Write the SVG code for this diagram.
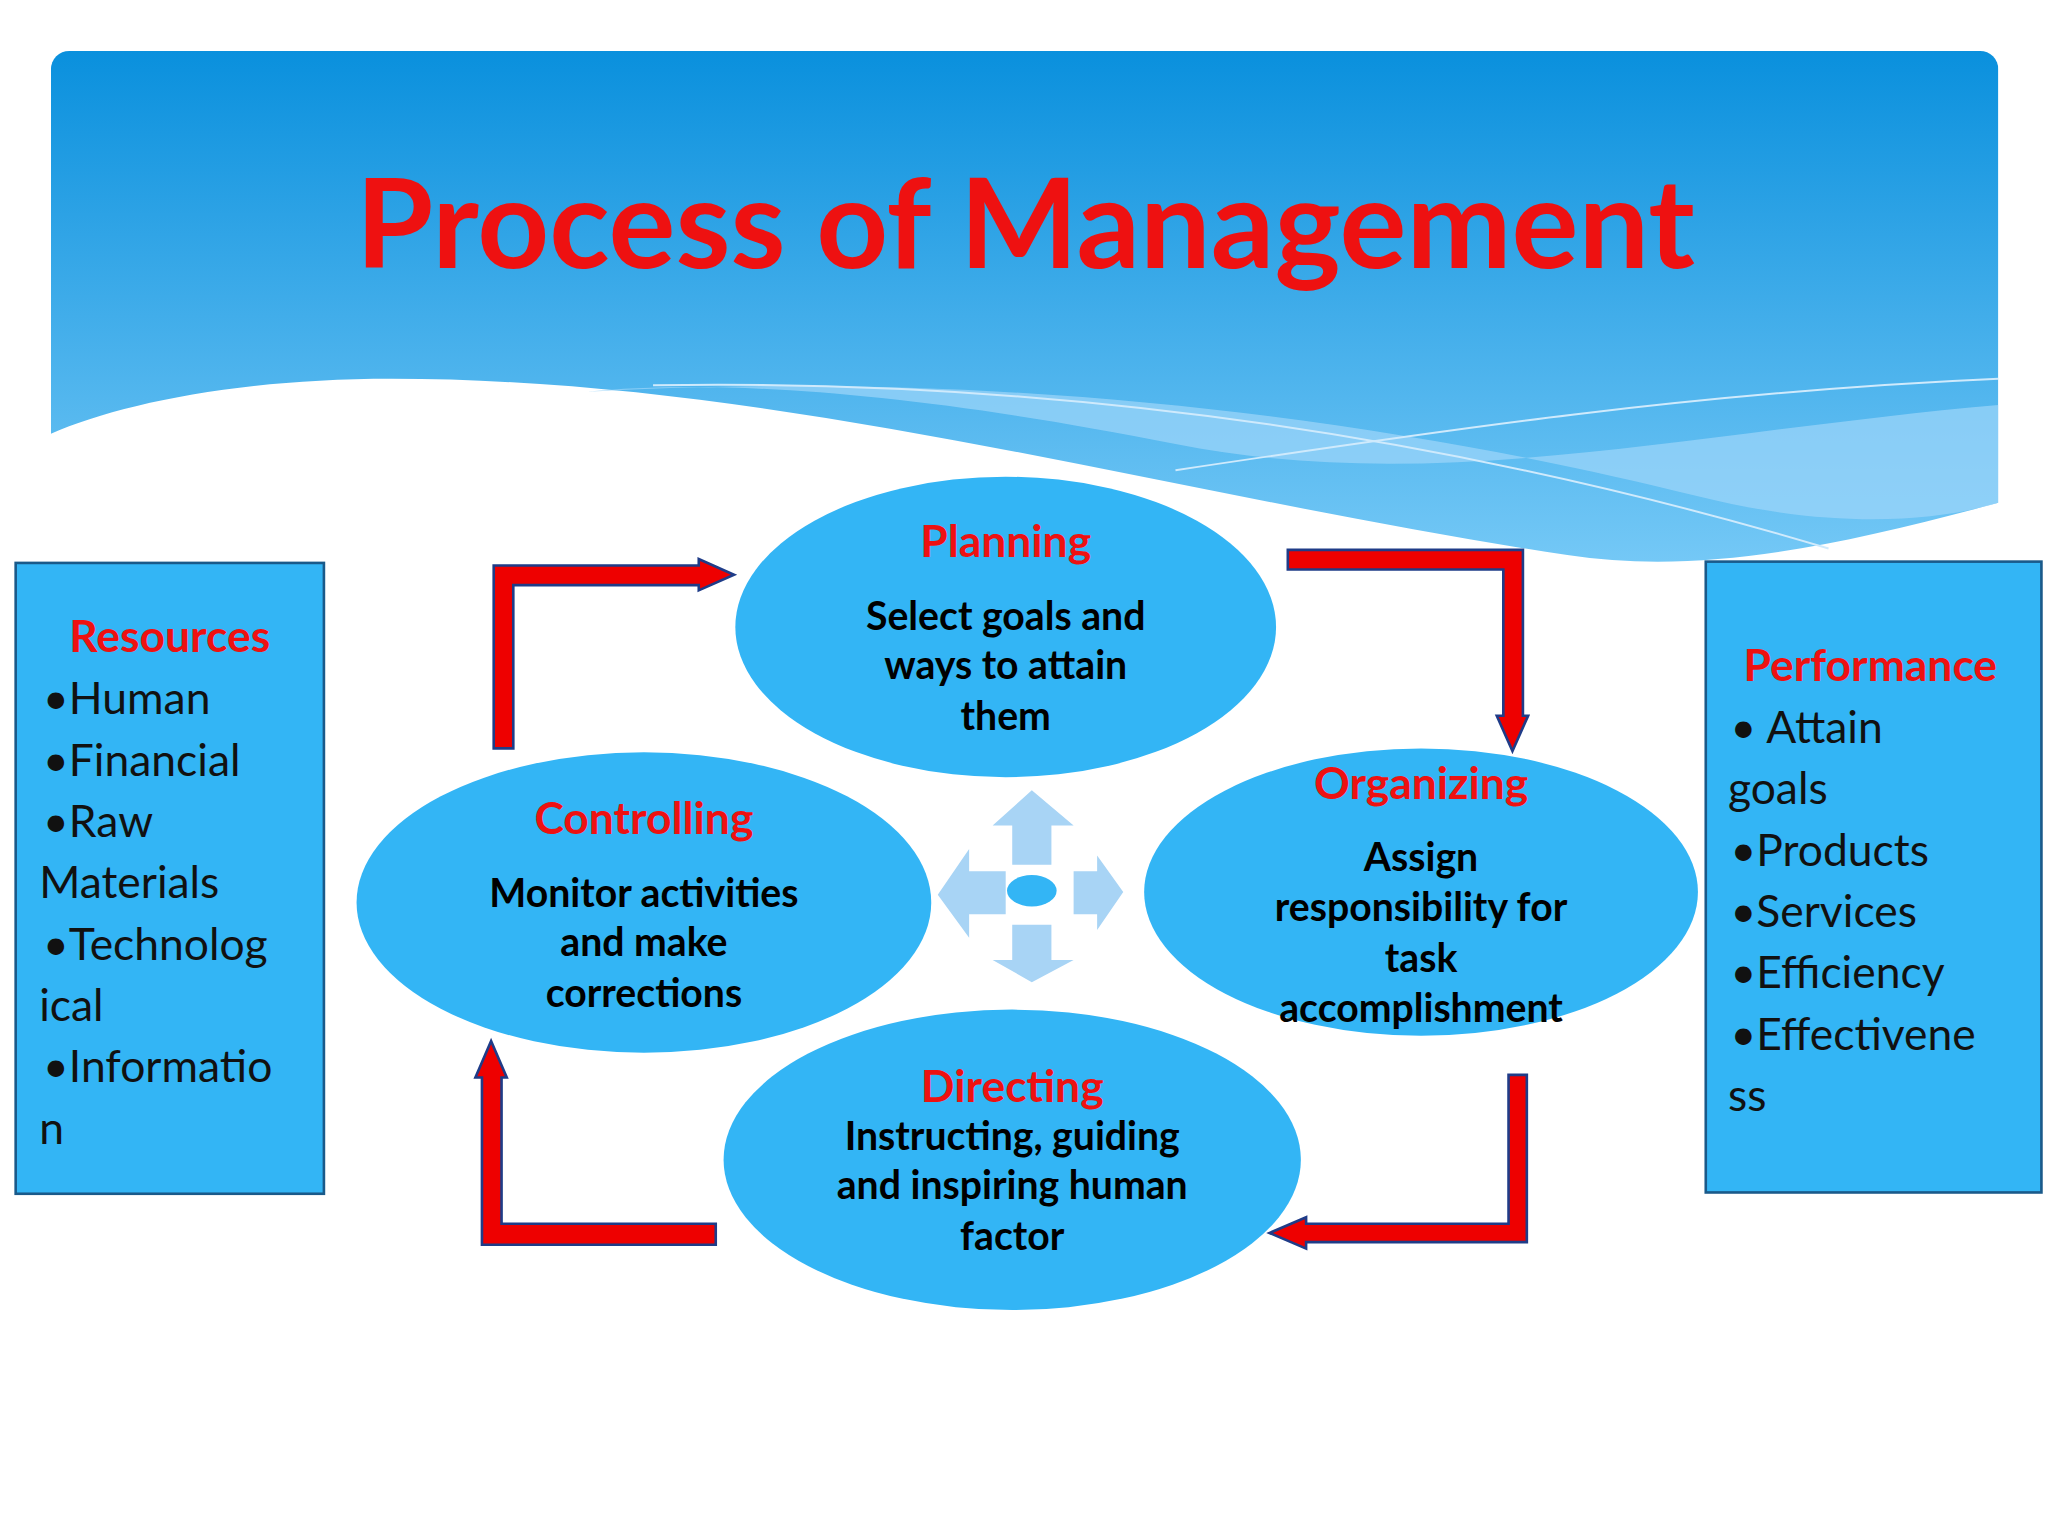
<svg xmlns="http://www.w3.org/2000/svg" width="2048" height="1536" viewBox="0 0 2048 1536">
<defs>
<linearGradient id="hg" x1="0" y1="0" x2="0" y2="1">
<stop offset="0" stop-color="#0a90dd"/><stop offset="1" stop-color="#74c8f6"/>
</linearGradient>
<clipPath id="hc"><rect x="39" y="39" width="1491" height="420" rx="14"/></clipPath>
<style>
.ell{fill:#33b5f5}
.box{fill:#33b5f5;stroke:#1a5a8a;stroke-width:2}
.arr{fill:#ee0000;stroke:#1f3c88;stroke-width:2}
.cmp{fill:#a8d4f5}
.t{font-family:Lato,"Open Sans",sans-serif;font-weight:bold;fill:#ee1111;font-size:34px;text-anchor:middle;dominant-baseline:central}
.b{font-family:Lato,"Open Sans",sans-serif;font-weight:bold;fill:#000;font-size:30px;text-anchor:middle;dominant-baseline:central}
.l{font-family:Lato,"Open Sans",sans-serif;fill:#111;font-size:34px;dominant-baseline:central}
</style>
</defs>
<rect width="2048" height="1536" fill="#fff"/>
<g transform="scale(1.3061)">
<g id="header" clip-path="url(#hc)">
<path d="M39 39 H1530 V385 C1400 420 1300 440 1200 425 C900 380 600 290 300 290 C180 290 90 310 39 332 Z" fill="url(#hg)"/>
<path d="M450 300 C800 280 1100 330 1300 380 C1400 405 1480 400 1530 385 V310 C1300 330 1100 380 900 340 C700 300 550 290 450 300 Z" fill="#9ed6fa" opacity="0.7"/>
<path d="M900 360 C1100 330 1300 300 1530 290" fill="none" stroke="#cfeafc" stroke-width="1.5"/>
<path d="M500 295 C800 290 1100 330 1400 420" fill="none" stroke="#cfeafc" stroke-width="1.5"/>
</g>
<text x="785" y="168" class="t" style="font-size:96px">Process of Management</text>
<g id="resources">
<rect x="12" y="431" width="236" height="483" class="box"/>
<text x="130" y="486" class="t">Resources</text>
<text class="l"><tspan x="33" y="533">•Human</tspan><tspan x="33" y="580">•Financial</tspan><tspan x="33" y="627">•Raw</tspan><tspan x="30" y="674">Materials</tspan><tspan x="33" y="721">•Technolog</tspan><tspan x="30" y="768">ical</tspan><tspan x="33" y="815">•Informatio</tspan><tspan x="30" y="862">n</tspan></text>
</g>
<g id="performance">
<rect x="1306" y="430" width="257" height="483" class="box"/>
<text x="1432" y="508" class="t">Performance</text>
<text class="l"><tspan x="1325" y="555">• Attain</tspan><tspan x="1323" y="602">goals</tspan><tspan x="1325" y="649">•Products</tspan><tspan x="1325" y="696">•Services</tspan><tspan x="1325" y="743">•Efficiency</tspan><tspan x="1325" y="790">•Effectivene</tspan><tspan x="1323" y="837">ss</tspan></text>
</g>
<g id="center">
<polygon class="cmp" points="760,632 790,605 822,632 805,632 805,662 775,662 775,632"/>
<polygon class="cmp" points="775,708 805,708 805,735 822,735 790,752 760,735 775,735"/>
<polygon class="cmp" points="718,685 742,650 742,667 770,667 770,700 742,700 742,718"/>
<polygon class="cmp" points="860,683 840,655 840,667 822,667 822,700 840,700 840,712"/>
<ellipse cx="790" cy="682" rx="19" ry="12" class="ell"/>
</g>
<g id="planning">
<ellipse cx="770" cy="480" rx="207" ry="115" class="ell"/>
<text x="770" y="413" class="t">Planning</text>
<text class="b"><tspan x="770" y="470">Select goals and</tspan><tspan x="770" y="508">ways to attain</tspan><tspan x="770" y="547">them</tspan></text>
</g>
<g id="organizing">
<ellipse cx="1088" cy="683" rx="212" ry="110" class="ell"/>
<text x="1088" y="598" class="t">Organizing</text>
<text class="b"><tspan x="1088" y="655">Assign</tspan><tspan x="1088" y="693">responsibility for</tspan><tspan x="1088" y="732">task</tspan><tspan x="1088" y="770">accomplishment</tspan></text>
</g>
<g id="controlling">
<ellipse cx="493" cy="691" rx="220" ry="115" class="ell"/>
<text x="493" y="625" class="t">Controlling</text>
<text class="b"><tspan x="493" y="682">Monitor activities</tspan><tspan x="493" y="720">and make</tspan><tspan x="493" y="759">corrections</tspan></text>
</g>
<g id="directing">
<ellipse cx="775" cy="888" rx="221" ry="115" class="ell"/>
<text x="775" y="830" class="t">Directing</text>
<text class="b"><tspan x="775" y="868">Instructing, guiding</tspan><tspan x="775" y="906">and inspiring human</tspan><tspan x="775" y="945">factor</tspan></text>
</g>
<g id="connectors">
<polygon class="arr" points="378,573 393,573 393,448 535,448 535,452 562,440 535,428 535,433 378,433"/>
<polygon class="arr" points="986,421 1166,421 1166,548 1170,548 1158,575 1146,548 1151,548 1151,436 986,436"/>
<polygon class="arr" points="1155,823 1169,823 1169,951 1000,951 1000,956 972,944 1000,932 1000,937 1155,937"/>
<polygon class="arr" points="548,937 548,953 369,953 369,825 364,825 376,797 388,825 384,825 384,937"/>
</g>
</g>
</svg>
